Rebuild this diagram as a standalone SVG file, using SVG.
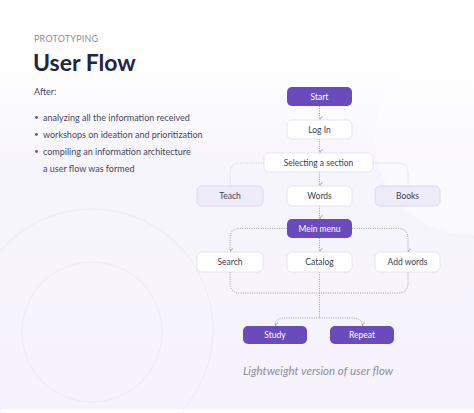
<svg xmlns="http://www.w3.org/2000/svg" width="474" height="413" viewBox="0 0 474 413">
<defs>
<linearGradient id="bg" x1="0" y1="0" x2="0" y2="1">
<stop offset="0" stop-color="#ffffff"/>
<stop offset="0.14" stop-color="#ffffff"/>
<stop offset="0.4" stop-color="#f7f5fc"/>
<stop offset="1" stop-color="#f5f2fb"/>
</linearGradient>
<marker id="arr" markerWidth="8" markerHeight="6" refX="3" refY="3.5" orient="auto" markerUnits="userSpaceOnUse" viewBox="0 0 8 6">
<path d="M0.5,0.5 L3,3.5 L5.5,0.5" fill="none" stroke="#8c8a9a" stroke-width="0.8"/>
</marker>
<style>
.t{font-family:Lato,"Noto Sans",sans-serif}
.nd{fill:#ffffff;stroke:#e2deec;stroke-width:0.8}
.lt{fill:#efecf9;stroke:#d8d2ec;stroke-width:0.8}
.pp{fill:#6a4bbd}
.nt{font-family:Lato,"Noto Sans",sans-serif;font-size:8.5px;fill:#3b3e55;text-anchor:middle}
.pt{font-family:Lato,"Noto Sans",sans-serif;font-size:8.5px;fill:#ffffff;text-anchor:middle}
.c{fill:none;stroke:#8c8a9a;stroke-width:0.8;stroke-dasharray:1 1.3}
.cf{fill:none;stroke:#c9c6d4;stroke-width:0.8;stroke-dasharray:1 1.3}
.bt{font-family:Lato,"Noto Sans",sans-serif;font-size:9px;fill:#45475e}
</style>
</defs>
<rect width="474" height="413" fill="url(#bg)"/>
<rect y="409" width="474" height="4" fill="#ffffff"/>
<circle cx="470" cy="140" r="95" fill="#ffffff" opacity="0.4"/>
<circle cx="92" cy="330" r="121" fill="none" stroke="#efebf7" stroke-width="1"/>
<circle cx="92" cy="332" r="70" fill="none" stroke="#efebf7" stroke-width="1"/>

<g id="header">
<text class="t" x="34" y="42" font-size="9" fill="#8e8e9c" letter-spacing="0.2">PROTOTYPING</text>
<text class="t" x="33" y="71" font-size="23" font-weight="bold" fill="#1f2542">User Flow</text>
<text class="bt" x="34" y="95">After:</text>
<circle cx="36.5" cy="117.5" r="1.4" fill="#6a4bbd"/>
<circle cx="36.5" cy="134.5" r="1.4" fill="#6a4bbd"/>
<circle cx="36.5" cy="151.5" r="1.4" fill="#6a4bbd"/>
<text class="bt" x="43" y="120.5">analyzing all the information received</text>
<text class="bt" x="43" y="137.5">workshops on ideation and prioritization</text>
<text class="bt" x="43" y="154.5">compiling an information architecture</text>
<text class="bt" x="43" y="171.5">a user flow was formed</text>
</g>

<g id="connectors">
<path class="c" d="M319.5,106 V119" marker-end="url(#arr)"/>
<path class="c" d="M319.5,139 V152" marker-end="url(#arr)"/>
<path class="c" d="M319.5,172 V185" marker-end="url(#arr)"/>
<path class="cf" d="M264,163 H240 Q230,163 230,173 V186"/>
<path class="cf" d="M373,163 H398 Q408,163 408,173 V186"/>
<path class="c" d="M319.5,206 V218" marker-end="url(#arr)"/>
<path class="c" d="M287,228.5 H240 Q230,228.5 230,238.5 V251" marker-end="url(#arr)"/>
<path class="c" d="M352,228.5 H398 Q408,228.5 408,238.5 V251" marker-end="url(#arr)"/>
<path class="c" d="M319.5,238 V251" marker-end="url(#arr)"/>
<path class="c" d="M230,272 V283 Q230,293 240,293 H398 Q408,293 408,283 V272"/>
<path class="c" d="M319.5,272 V318"/>
<path class="c" d="M319.5,318 H285 Q275,318 275,325" marker-end="url(#arr)"/>
<path class="c" d="M319.5,318 H352 Q362,318 362,325" marker-end="url(#arr)"/>
</g>

<g id="start"><rect class="pp" x="287" y="87" width="65" height="19" rx="5"/><text class="pt" x="319.5" y="99.5">Start</text></g>
<g id="login"><rect class="nd" x="287" y="120" width="65" height="19" rx="5"/><text class="nt" x="319.5" y="132.5">Log In</text></g>
<g id="selecting"><rect class="nd" x="264" y="153" width="109" height="19" rx="5"/><text class="nt" x="318.5" y="165.5">Selecting a section</text></g>
<g id="teach"><rect class="lt" x="197" y="186" width="66" height="20" rx="5"/><text class="nt" x="230" y="199">Teach</text></g>
<g id="words"><rect class="nd" x="287" y="186" width="65" height="20" rx="5"/><text class="nt" x="319.5" y="199">Words</text></g>
<g id="books"><rect class="lt" x="375" y="186" width="65" height="20" rx="5"/><text class="nt" x="407.5" y="199">Books</text></g>
<g id="mainmenu"><rect class="pp" x="287" y="219" width="65" height="19" rx="5"/><text class="pt" x="319.5" y="231.5">Mein menu</text></g>
<g id="search"><rect class="nd" x="197" y="252" width="66" height="20" rx="5"/><text class="nt" x="230" y="265">Search</text></g>
<g id="catalog"><rect class="nd" x="287" y="252" width="65" height="20" rx="5"/><text class="nt" x="319.5" y="265">Catalog</text></g>
<g id="addwords"><rect class="nd" x="375" y="252" width="65" height="20" rx="5"/><text class="nt" x="407.5" y="265">Add words</text></g>
<g id="study"><rect class="pp" x="243" y="326" width="64" height="18" rx="5"/><text class="pt" x="275" y="338">Study</text></g>
<g id="repeat"><rect class="pp" x="330" y="326" width="64" height="18" rx="5"/><text class="pt" x="362" y="338">Repeat</text></g>

<text class="t" x="318" y="375" font-size="11.5" font-style="italic" fill="#8e8e9c" text-anchor="middle">Lightweight version of user flow</text>
</svg>
